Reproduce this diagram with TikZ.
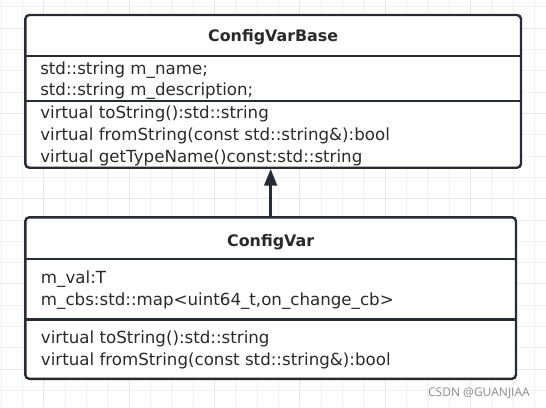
\documentclass[tikz,border=0pt]{standalone}
\usepackage{fontspec}
\setmainfont{DejaVu Sans}
\newfontfamily\marksans{Open Sans}
\usetikzlibrary{positioning,calc,arrows.meta}
\usepackage{xcolor}
\definecolor{slateink}{HTML}{272B32}
\definecolor{memberink}{HTML}{2A2A2A}
\definecolor{gridminor}{HTML}{F1F1F1}
\definecolor{gridmajor}{HTML}{E6E6E6}
\tikzset{
  classbox/.style={draw=slateink,fill=white,line width=1.8pt,rounded corners=3pt,inner sep=0pt},
  sepline/.style={draw=slateink,line width=1.8pt},
  member/.style={anchor=base west,inner sep=0pt,text=memberink,font=\fontsize{12.5}{14}\selectfont},
  classname/.style={anchor=base,inner sep=0pt,text=memberink,font=\bfseries\fontsize{11.9}{13}\selectfont},
  inherit/.style={draw=slateink,line width=1.8pt,-{Triangle[length=12.5pt,width=9.5pt]}},
  watermark/.style={anchor=base east,inner sep=0pt,text=black!45,font=\marksans\fontsize{9}{10}\selectfont}
}
\newcommand{\umlclass}[7]{%
  \pgfmathsetmacro{\midx}{(#2+#4)/2}
  \pgfmathsetmacro{\midy}{(#3+#5)/2}
  \pgfmathsetmacro{\boxw}{(#4-#2)*0.75}
  \pgfmathsetmacro{\boxh}{(#5-#3)*0.75}
  \node[classbox,minimum width=\boxw pt,minimum height=\boxh pt] (#1) at (\midx,\midy) {};
  \node[classname] (#1-title) at (\midx,#6) {#7};
}

\begin{document}
\begin{tikzpicture}[x=0.75pt,y=-0.75pt]
  \useasboundingbox (0,0) rectangle (546,407);
  \fill[white] (0,0) rectangle (546,407);
  \foreach \k in {0,...,25} {
    \pgfmathtruncatemacro{\major}{mod(\k,4)==2}
    \ifnum\major=1 \def\gridcol{gridmajor}\else \def\gridcol{gridminor}\fi
    \draw[\gridcol,line width=0.75pt] (1.3+21.33*\k,0) -- (1.3+21.33*\k,407);
  }
  \foreach \k in {0,...,18} {
    \pgfmathtruncatemacro{\major}{mod(\k,4)==1}
    \ifnum\major=1 \def\gridcol{gridmajor}\else \def\gridcol{gridminor}\fi
    \draw[\gridcol,line width=0.75pt] (0,6.7+21.33*\k) -- (546,6.7+21.33*\k);
  }

  \umlclass{base}{25.3}{15}{521}{167.7}{41.7}{ConfigVarBase}
  \draw[sepline] (25.3,55.7) -- (521,55.7);
  \draw[sepline] (25.3,100.7) -- (521,100.7);
  \foreach \y/\t [count=\i] in {74/{std::string m\_name;},
                                95.7/{std::string m\_description;},
                                118.3/{virtual toString():std::string},
                                140/{virtual fromString(const std::string\&):bool},
                                162.3/{virtual getTypeName()const:std::string}} {
    \node[member] (base-m\i) at (40,\y) {\t};
  }

  \umlclass{var}{25.3}{217.3}{516}{378.8}{246}{ConfigVar}
  \draw[sepline] (25.3,259) -- (516,259);
  \draw[sepline] (25.3,319.3) -- (516,319.3);
  \foreach \y/\t [count=\i] in {283.3/{m\_val:T},
                                305.7/{m\_cbs:std::map<uint64\_t,on\_change\_cb>},
                                343.3/{virtual toString():std::string},
                                365/{virtual fromString(const std::string\&):bool}} {
    \node[member] (var-m\i) at (40.7,\y) {\t};
  }

  \draw[inherit] (var.north) -- (var.north |- base.south);

  \node[watermark] (mark) at (530,396.7) {CSDN @GUANJIAA};
\end{tikzpicture}
\end{document}
